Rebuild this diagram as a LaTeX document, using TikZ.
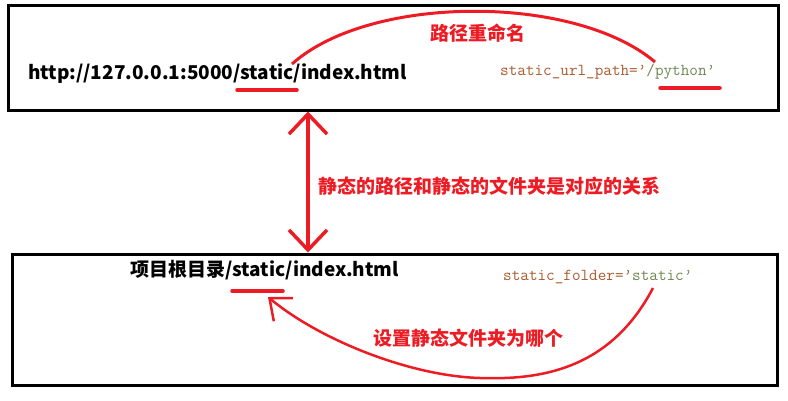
\documentclass[tikz,border=0pt]{standalone}
\usepackage{fontspec}
\setmainfont{Noto Sans CJK SC}
\usetikzlibrary{arrows.meta}

\definecolor{markred}{RGB}{237,28,36}
\definecolor{codebrown}{RGB}{170,90,45}
\definecolor{codegreen}{RGB}{110,135,80}

\begin{document}
\begin{tikzpicture}[x=1pt, y=-1pt,
    box/.style={draw, line width=3pt, inner sep=0pt},
    pathtext/.style={font=\fontsize{19}{21}\selectfont\bfseries, inner sep=0pt, anchor=west},
    notetext/.style={pathtext, text=markred},
    codetext/.style={font=\ttfamily\fontsize{16.7}{18}\selectfont, inner sep=0pt, anchor=west},
    redline/.style={draw=markred, line width=3.5pt, line cap=round},
    biarrow/.style={draw=markred, line width=3.5pt, {Straight Barb[length=20pt,width=38pt]}-{Straight Barb[length=20pt,width=38pt]}},
    curvearrow/.style={draw=markred, line width=2.5pt, -{Straight Barb[length=18pt,width=30pt]}}]
  \useasboundingbox (0,0) rectangle (788,400);

  % the two frames
  \node[box, minimum width=770pt, minimum height=105pt] (topbox) at (393,57.5) {};
  \node[box, minimum width=765pt, minimum height=131pt] (bottombox) at (394.5,319.5) {};

  % upper frame: url and renamed path
  \node[pathtext] (url) at (28,74) {http://127.0.0.1:5000/static/index.html};
  \node[codetext] (urlpath) at (500,72) {\textcolor{codebrown}{static\_url\_path=’}\textcolor{codegreen}{/python’}};
  \draw[redline] (237,90) -- (297,90);
  \draw[redline] (660,88) -- (720,88);
  \coordinate (renamefrom) at (292,64);
  \coordinate (renameto) at (655,62);
  \draw[markred, line width=3pt] (renamefrom) .. controls (370,-6) and (575,-6) .. (renameto);
  \node[notetext] (rename) at (430,33) {路径重命名};

  % the link between both frames
  \coordinate (arrowx) at (308,0);
  \draw[biarrow] (topbox.south -| arrowx) -- (bottombox.north -| arrowx);
  \node[notetext] (relation) at (318,186) {静态的路径和静态的文件夹是对应的关系};

  % lower frame: folder on disk
  \node[pathtext] (folder) at (130,270) {项目根目录/static/index.html};
  \node[codetext] (folderpath) at (503,277) {\textcolor{codebrown}{static\_folder=’}\textcolor{codegreen}{static’}};
  \draw[redline] (232,291) -- (283,291);
  \coordinate (folderfrom) at (653,288);
  \coordinate (folderdip) at (480,378);
  \coordinate (foldertip) at (268,297);
  \draw[curvearrow] (folderfrom) .. controls (610,370) and (540,380) .. (folderdip)
    .. controls (410,376) and (320,340) .. (foldertip);
  \node[notetext] (choose) at (373,338) {设置静态文件夹为哪个};
\end{tikzpicture}
\end{document}
